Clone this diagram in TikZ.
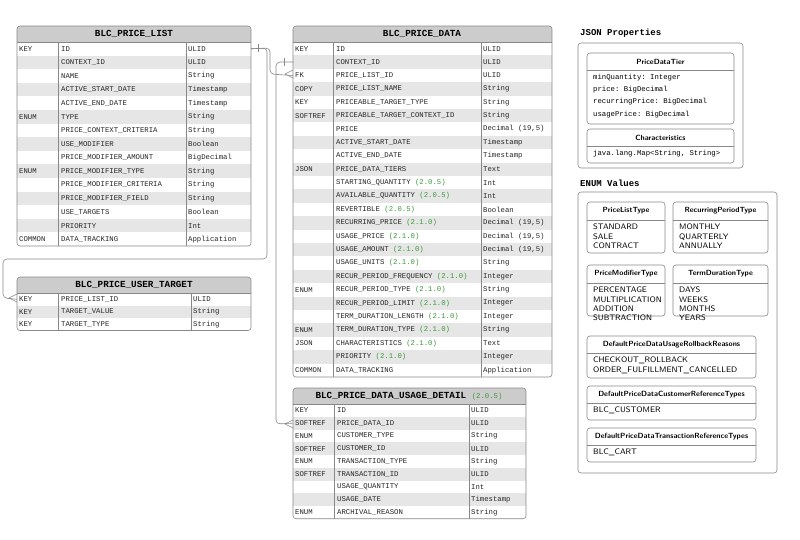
\documentclass[tikz,border=0pt]{standalone}
\usepackage{fontspec}
\setmainfont{Liberation Sans}
\setmonofont{Liberation Mono}
\begin{document}
\definecolor{hdr}{HTML}{CCCCCC}
\definecolor{alt}{HTML}{E6E6E6}
\definecolor{ln}{HTML}{888888}
\definecolor{ver}{HTML}{3A9A3A}
\newcommand\ver[1]{\textcolor{ver}{(#1)}}
\tikzset{
  cell/.style={anchor=west,inner sep=0pt,font=\ttfamily\fontsize{7.3}{8}\selectfont,text=black!85},
  title/.style={inner sep=0pt,font=\ttfamily\bfseries\fontsize{9.3}{10}\selectfont},
  frame/.style={draw=ln,line width=0.6pt,rounded corners=3pt},
  conn/.style={draw=ln,line width=0.6pt,rounded corners=4pt},
  tick/.style={draw=ln,line width=0.6pt},
  btitle/.style={inner sep=0pt,font=\sffamily\bfseries\fontsize{7.5}{8}\selectfont},
  bline/.style={anchor=north west,inner sep=0pt,align=left},
  mono/.style={font=\ttfamily\fontsize{7.3}{12.2}\selectfont},
  sans/.style={font=\sffamily\fontsize{8}{9.3}\selectfont},
  sec/.style={anchor=west,inner sep=0pt,font=\ttfamily\bfseries\fontsize{9}{10}\selectfont}
}
% #1 name #2 x1 #3 c1 #4 c2 #5 x2 #6 ytop #7 rowh #8 nrows #9 rows
\newcommand\ertable[9]{%
  \pgfmathsetmacro\yb{#6+16+#8*#7}%
  \begin{scope}
    \clip[rounded corners=3pt] (#2,#6) rectangle (#5,\yb);
    \fill[hdr] (#2,#6) rectangle (#5,#6+16);
    \foreach \k/\n/\t [count=\i] in {#9}{%
      \pgfmathsetmacro\ya{#6+16+(\i-1)*#7}%
      \ifodd\i\else\fill[alt] (#2,\ya) rectangle (#5,\ya+#7);\fi
    }
  \end{scope}
  \foreach \k/\n/\t [count=\i] in {#9}{%
    \pgfmathsetmacro\ym{#6+16+(\i-0.5)*#7}%
    \node[cell] (#1k\i) at (#2+2,\ym) {\k};
    \node[cell] (#1n\i) at (#3+3,\ym) {\n};
    \node[cell] (#1t\i) at (#4+2,\ym) {\t};
  }
  \draw[ln,line width=0.6pt] (#2,#6+16) -- (#5,#6+16) (#3,#6+16) -- (#3,\yb) (#4,#6+16) -- (#4,\yb);
  \draw[frame] (#2,#6) rectangle (#5,\yb);
}
% #1 name #2 x1 #3 x2 #4 y1 #5 ysep #6 y2 #7 title #8 style #9 body
\newcommand\ebox[9]{%
  \draw[frame] (#2,#4) rectangle (#3,#6);
  \draw[ln,line width=0.6pt] (#2,#5) -- (#3,#5);
  \node[btitle] (#1t) at ({(#2+#3)/2},{(#4+#5)/2}) {#7};
  \node[bline,#8] (#1b) at (#2+6,#5+4) {#9};
}
\begin{tikzpicture}[x=1pt,y=-1pt]
\useasboundingbox (0,0) rectangle (800,539);
\fill[white] (0,0) rectangle (800,539);

\ertable{a}{17}{58}{186}{251}{26}{13.6}{15}{
KEY/ID/ULID, /CONTEXT\_ID/ULID, /NAME/String, /ACTIVE\_START\_DATE/Timestamp, /ACTIVE\_END\_DATE/Timestamp,
ENUM/TYPE/String, /PRICE\_CONTEXT\_CRITERIA/String, /USE\_MODIFIER/Boolean, /PRICE\_MODIFIER\_AMOUNT/BigDecimal,
ENUM/PRICE\_MODIFIER\_TYPE/String, /PRICE\_MODIFIER\_CRITERIA/String, /PRICE\_MODIFIER\_FIELD/String,
/USE\_TARGETS/Boolean, /PRIORITY/Int, COMMON/DATA\_TRACKING/Application}
\node[title] (at) at (134,34) {BLC\_PRICE\_LIST};

\ertable{b}{293}{333}{481}{552}{26}{13.4}{25}{
KEY/ID/ULID, /CONTEXT\_ID/ULID, FK/PRICE\_LIST\_ID/ULID, COPY/PRICE\_LIST\_NAME/String,
KEY/PRICEABLE\_TARGET\_TYPE/String, SOFTREF/PRICEABLE\_TARGET\_CONTEXT\_ID/String,
/PRICE/{Decimal (19,5)}, /ACTIVE\_START\_DATE/Timestamp, /ACTIVE\_END\_DATE/Timestamp,
JSON/PRICE\_DATA\_TIERS/Text, /{STARTING\_QUANTITY \ver{2.0.5}}/Int, /{AVAILABLE\_QUANTITY \ver{2.0.5}}/Int,
/{REVERTIBLE \ver{2.0.5}}/Boolean, /{RECURRING\_PRICE \ver{2.1.0}}/{Decimal (19,5)},
/{USAGE\_PRICE \ver{2.1.0}}/{Decimal (19,5)}, /{USAGE\_AMOUNT \ver{2.1.0}}/{Decimal (19,5)},
/{USAGE\_UNITS \ver{2.1.0}}/String, /{RECUR\_PERIOD\_FREQUENCY \ver{2.1.0}}/Integer,
ENUM/{RECUR\_PERIOD\_TYPE \ver{2.1.0}}/String, /{RECUR\_PERIOD\_LIMIT \ver{2.1.0}}/Integer,
/{TERM\_DURATION\_LENGTH \ver{2.1.0}}/Integer, ENUM/{TERM\_DURATION\_TYPE \ver{2.1.0}}/String,
JSON/{CHARACTERISTICS \ver{2.1.0}}/Text, /{PRIORITY \ver{2.1.0}}/Integer, COMMON/DATA\_TRACKING/Application}
\node[title] (bt) at (422,34) {BLC\_PRICE\_DATA};

\ertable{c}{17}{58}{191}{251}{277}{12.5}{3}{
KEY/PRICE\_LIST\_ID/ULID, KEY/TARGET\_VALUE/String, KEY/TARGET\_TYPE/String}
\node[title] (ct) at (134,285) {BLC\_PRICE\_USER\_TARGET};

\ertable{d}{293}{334}{469}{526}{388}{12.75}{9}{
KEY/ID/ULID, SOFTREF/PRICE\_DATA\_ID/ULID, ENUM/CUSTOMER\_TYPE/String, SOFTREF/CUSTOMER\_ID/ULID,
ENUM/TRANSACTION\_TYPE/String, SOFTREF/TRANSACTION\_ID/ULID, /USAGE\_QUANTITY/Int,
/USAGE\_DATE/Timestamp, ENUM/ARCHIVAL\_REASON/String}
\node[title] (dt) at (409,396) {BLC\_PRICE\_DATA\_USAGE\_DETAIL {\mdseries\fontsize{7.3}{8}\selectfont\ver{2.0.5}}};

% connectors
\coordinate (xa) at (251,0);
\coordinate (xb) at (293,0);
\coordinate (xc) at (17,0);
\coordinate (bsrc) at (293,62);
\draw[conn] (ak1 -| xa) -- (267,48) -- (267,259) -- (3,259) -- (3,298) -- (ck1 -| xc);
\draw[conn] (ak1 -| xa) -- (270,48) -- (270,74) -- (bk3 -| xb);
\draw[conn] (bsrc) -- (276,62) -- (276,424) -- (dk2 -| xb);
\draw[tick] (258,44) -- (258,52);
\draw[tick] (284,58) -- (284,66);
\draw[tick] (285,74) -- (293,70) (285,74) -- (293,78);
\draw[tick] (9,298) -- (17,294) (9,298) -- (17,302);
\draw[tick] (285,424) -- (293,420) (285,424) -- (293,428);

% JSON properties
\node[sec] (js) at (580,33) {JSON Properties};
\draw[frame] (578,43) rectangle (743,168);
\ebox{p}{587}{734}{53}{70}{124}{PriceDataTier}{mono}{minQuantity: Integer\\price: BigDecimal\\recurringPrice: BigDecimal\\usagePrice: BigDecimal}
\ebox{q}{587}{734}{129}{146}{163}{Characteristics}{mono}{java.lang.Map<String, String>}

% ENUM values
\node[sec] (en) at (580,183) {ENUM Values};
\draw[frame] (578,192) rectangle (777,473);
\ebox{e1}{587}{665}{202}{220}{253}{PriceListType}{sans}{STANDARD\\SALE\\CONTRACT}
\ebox{e2}{673}{768}{202}{220}{253}{RecurringPeriodType}{sans}{MONTHLY\\QUARTERLY\\ANNUALLY}
\ebox{e3}{587}{665}{265}{283}{316}{PriceModifierType}{sans}{PERCENTAGE\\MULTIPLICATION\\ADDITION\\SUBTRACTION}
\ebox{e4}{673}{768}{265}{283}{316}{TermDurationType}{sans}{DAYS\\WEEKS\\MONTHS\\YEARS}
\ebox{e5}{587}{756}{336}{353}{378}{DefaultPriceDataUsageRollbackReasons}{sans}{CHECKOUT\_ROLLBACK\\ORDER\_FULFILLMENT\_CANCELLED}
\ebox{e6}{587}{756}{386}{403}{420}{DefaultPriceDataCustomerReferenceTypes}{sans}{BLC\_CUSTOMER}
\ebox{e7}{587}{756}{428}{445}{462}{DefaultPriceDataTransactionReferenceTypes}{sans}{BLC\_CART}
\end{tikzpicture}
\end{document}
